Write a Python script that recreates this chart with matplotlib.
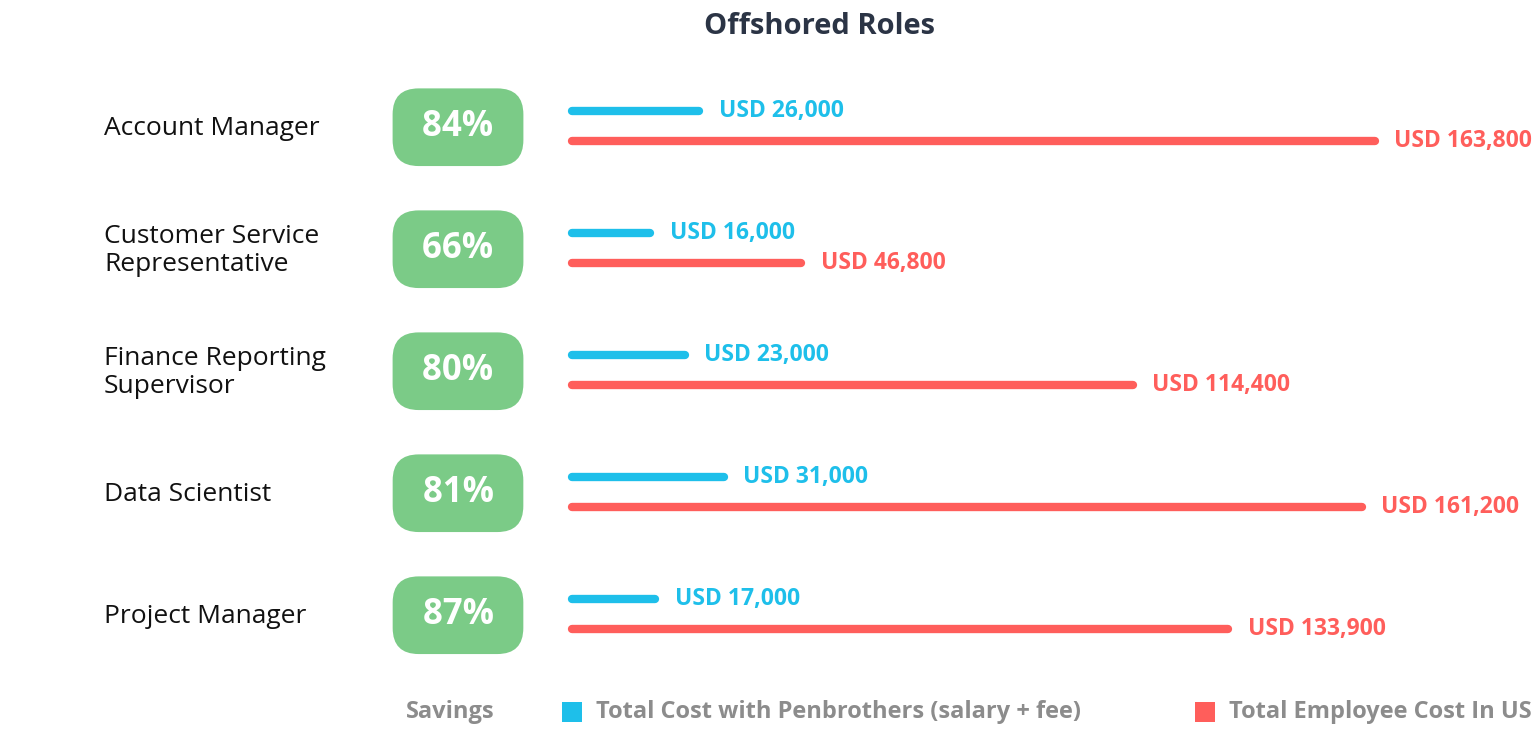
import matplotlib.pyplot as plt
import matplotlib.transforms as mtransforms
from matplotlib.patches import Rectangle

# data
roles = ['Account Manager', 'Customer Service\nRepresentative', 'Finance Reporting\nSupervisor',
         'Data Scientist', 'Project Manager']
savings = ['84%', '66%', '80%', '81%', '87%']
penbrothers_cost = [26000, 16000, 23000, 31000, 17000]
us_cost = [163800, 46800, 114400, 161200, 133900]

blue = '#1EBFEA'
red = '#FF5E5B'
green = '#7BCB87'
gray = '#8C8C8C'

plt.rcParams['font.family'] = ['Open Sans', 'DejaVu Sans']

W, H = 1536, 730
fig = plt.figure(figsize=(W / 100, H / 100), dpi=100)
fig.patch.set_facecolor('white')

# bar axes, laid out in pixels of the picture
ax_left, ax_top, ax_bottom = 572, 65, 675
ax = fig.add_axes([ax_left / W, 1 - ax_bottom / H, (W - ax_left) / W, (ax_bottom - ax_top) / H])
px_per_usd = 0.0049
ax.set_xlim(0, (W - ax_left) / px_per_usd)
ax.set_ylim(len(roles) - 0.5, -0.5)
ax.axis('off')

off = 0.12
for i in range(len(roles)):
    yb, yr = i - off, i + off
    ax.plot([0, penbrothers_cost[i]], [yb, yb], color=blue, lw=6, solid_capstyle='round', clip_on=False)
    ax.plot([0, us_cost[i]], [yr, yr], color=red, lw=6, solid_capstyle='round', clip_on=False)
    ax.annotate(f'USD {penbrothers_cost[i]:,}', (penbrothers_cost[i], yb), xytext=(14, 0),
                textcoords='offset points', va='center', ha='left', color=blue,
                fontsize=16.5, fontweight='bold')
    ax.annotate(f'USD {us_cost[i]:,}', (us_cost[i], yr), xytext=(14, 0),
                textcoords='offset points', va='center', ha='left', color=red,
                fontsize=16.5, fontweight='bold')

# role names and savings boxes
trans = mtransforms.blended_transform_factory(fig.transFigure, ax.transData)
for i in range(len(roles)):
    fig.text(104 / W, i + 0.02, roles[i], transform=trans, ha='left', va='center',
             fontsize=19, color='#111111', linespacing=1.15)
    fig.text(458 / W, i + 0.01, ' ' + savings[i] + ' ', transform=trans, ha='center', va='center',
             fontsize=25, fontweight='bold', color='white',
             bbox=dict(boxstyle='round,pad=0.6,rounding_size=0.75', fc=green, ec='none'))

# title
fig.text(819 / W, 1 - 27 / H, 'Offshored Roles', ha='center', va='center',
         fontsize=21, fontweight='bold', color='#2B3445')

# legend row
ly = 1 - 712 / H
fig.text(450 / W, ly, 'Savings', ha='center', va='center', fontsize=17, fontweight='bold', color=gray)
sq = 20
fig.patches.append(Rectangle((562 / W, ly - sq / 2 / H), sq / W, sq / H, transform=fig.transFigure,
                             fc=blue, ec='none'))
fig.text(596 / W, ly, 'Total Cost with Penbrothers (salary + fee)', ha='left', va='center',
         fontsize=17, fontweight='bold', color=gray)
fig.patches.append(Rectangle((1195 / W, ly - sq / 2 / H), sq / W, sq / H, transform=fig.transFigure,
                             fc=red, ec='none'))
fig.text(1229 / W, ly, 'Total Employee Cost In US', ha='left', va='center',
         fontsize=17, fontweight='bold', color=gray)

fig.savefig('out.png', dpi=100)
